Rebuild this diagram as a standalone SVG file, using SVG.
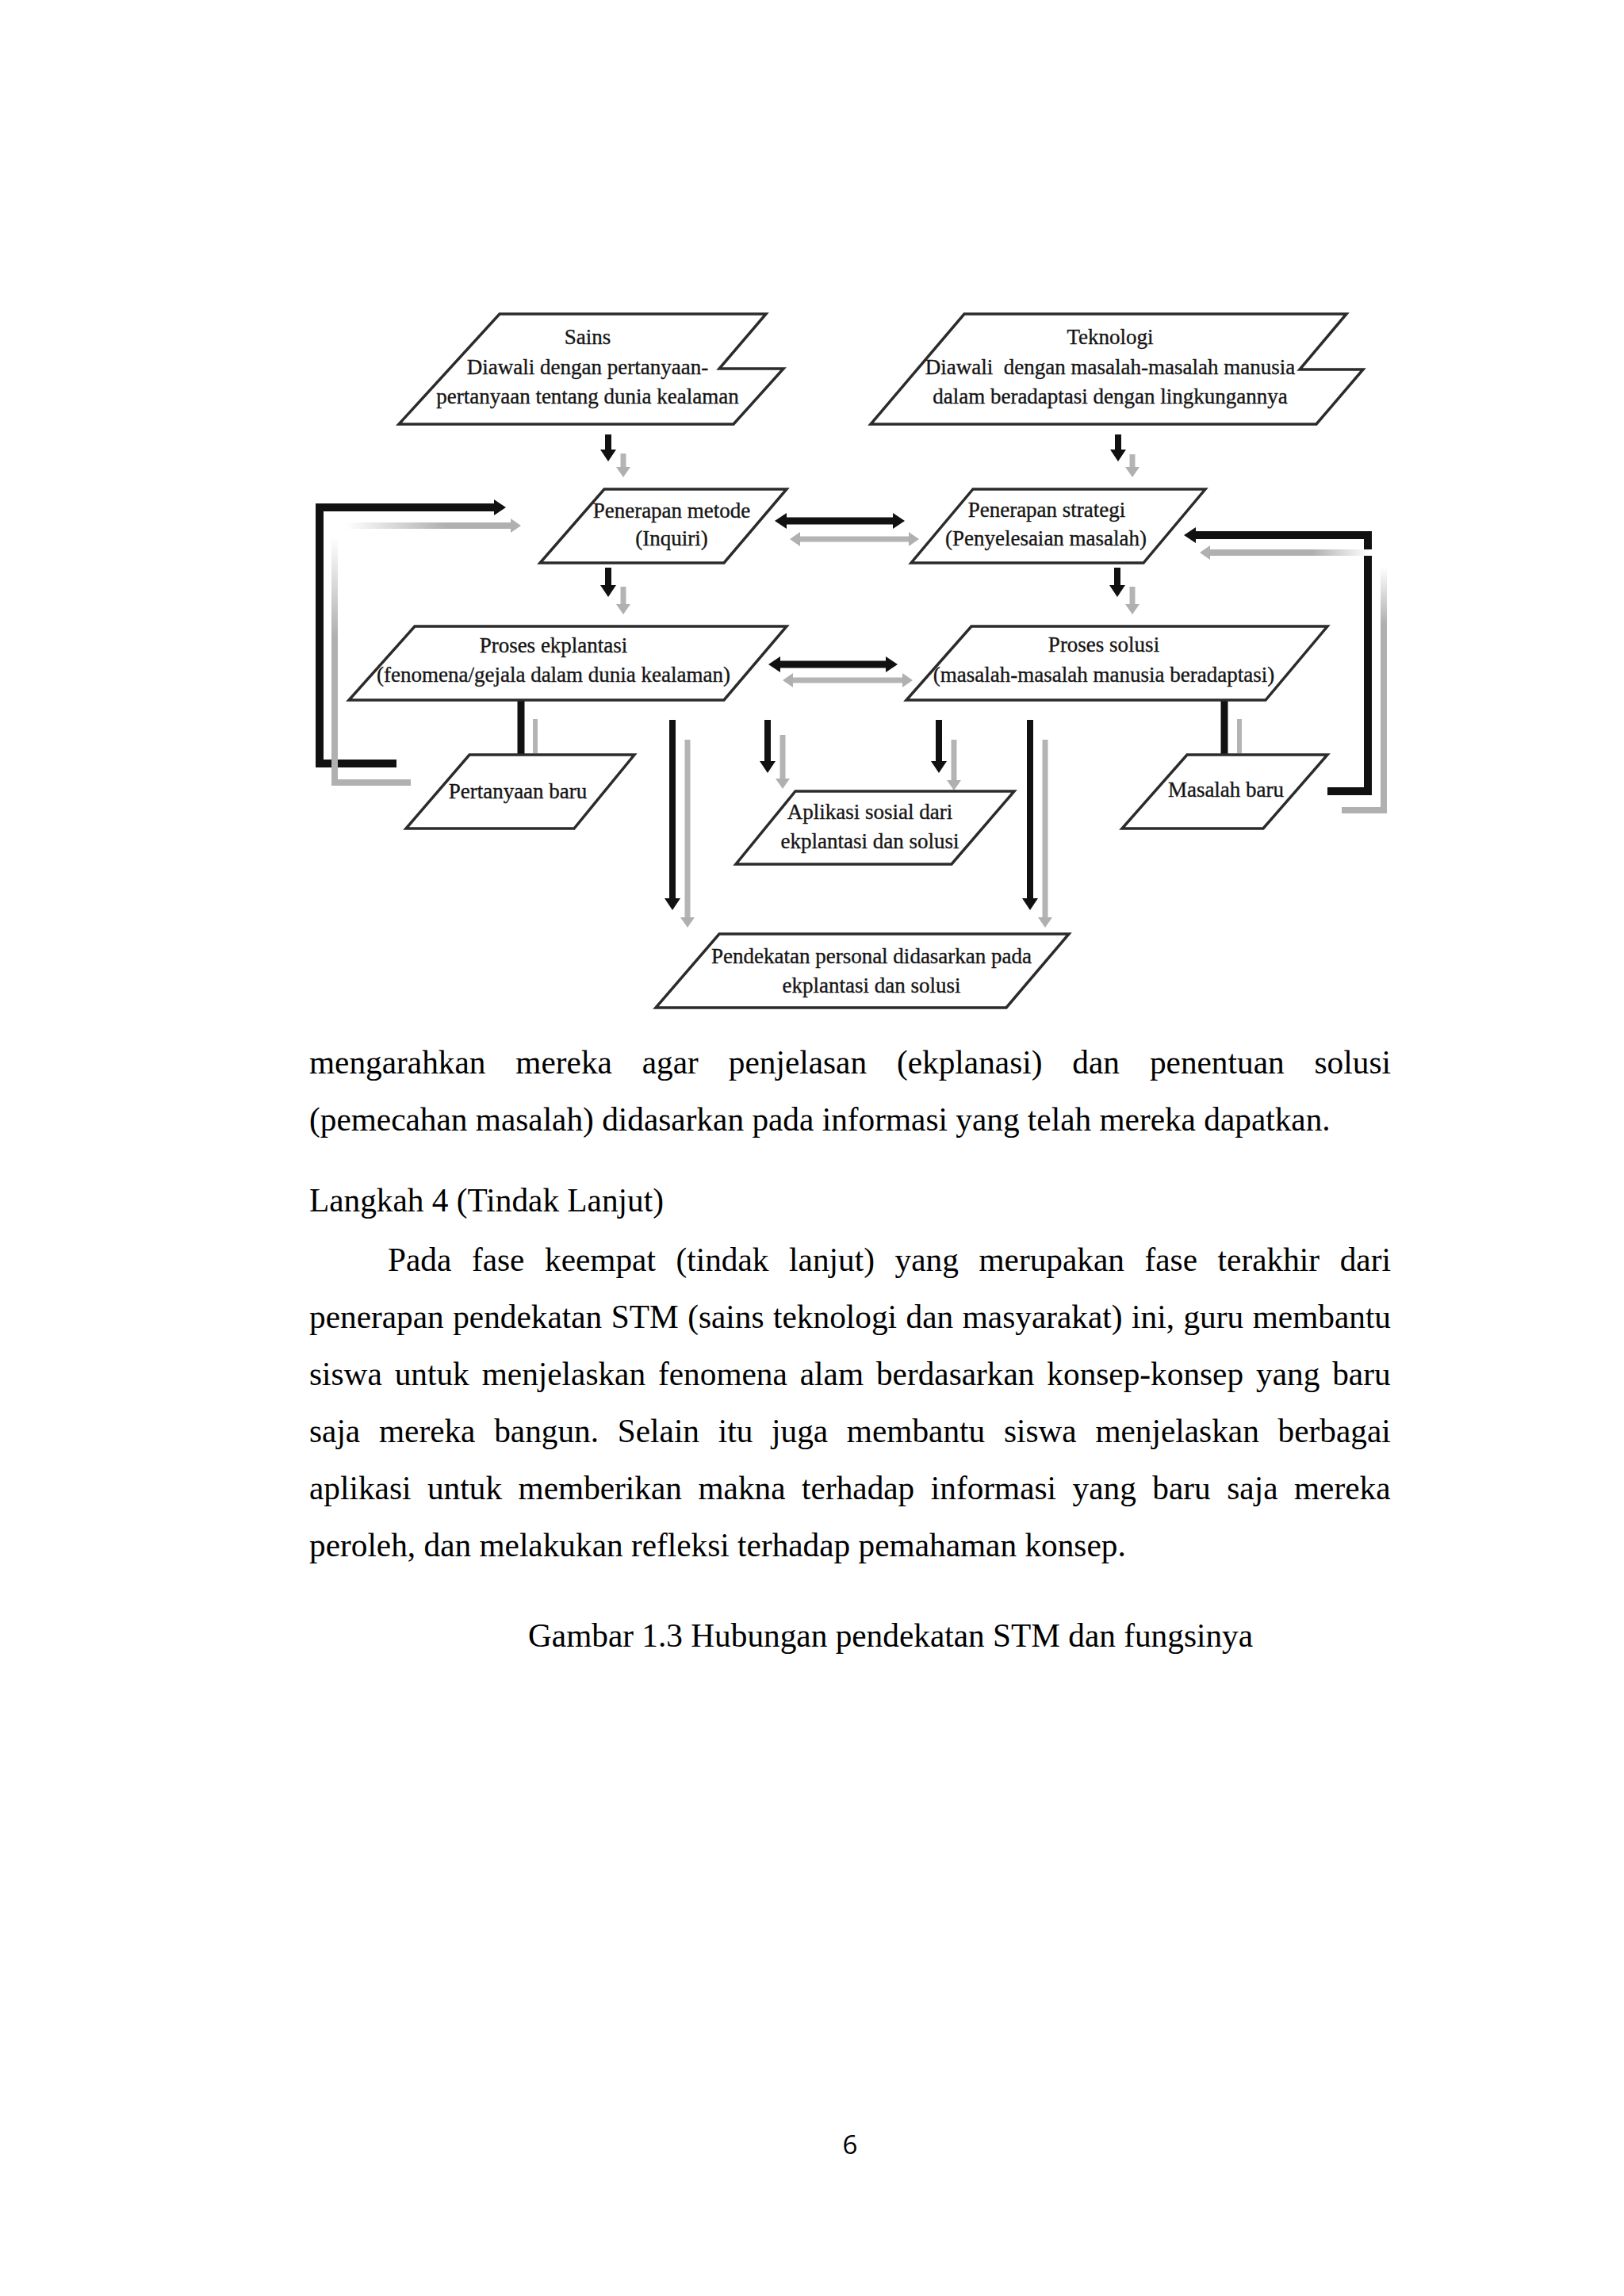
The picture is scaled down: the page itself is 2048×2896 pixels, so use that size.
<svg xmlns="http://www.w3.org/2000/svg" width="2048" height="2896" viewBox="0 0 2048 2896">
<style>
.box{fill:#fff;stroke:#2b2b2b;stroke-width:3.5;stroke-linejoin:miter}
.lbl{font-family:"Liberation Serif","Times New Roman",serif;font-size:27px;fill:#151515;stroke:#151515;stroke-width:0.35;text-anchor:middle}
.bk{fill:none;stroke:#111;stroke-width:8}
.bkl{fill:none;stroke:#111;stroke-width:10;stroke-linejoin:miter}
.gr{fill:none;stroke:#b4b4b4;stroke-width:7}
.body{font-family:"Liberation Serif","Times New Roman",serif;font-size:41.3px;fill:#000}
.pg{font-family:"Open Sans","Liberation Sans",sans-serif;font-size:33px;fill:#000;text-anchor:middle}
</style>
<defs>
<marker id="hb" markerUnits="userSpaceOnUse" viewBox="0 -10 15 20" markerWidth="15" markerHeight="20" refX="0" refY="0" orient="auto-start-reverse"><path d="M0,-10 L15,0 L0,10 Z" fill="#111"/></marker>
<marker id="hg" markerUnits="userSpaceOnUse" viewBox="0 -9 13 18" markerWidth="13" markerHeight="18" refX="0" refY="0" orient="auto-start-reverse"><path d="M0,-9 L13,0 L0,9 Z" fill="#b0b0b0"/></marker>
<radialGradient id="fadeL" gradientUnits="userSpaceOnUse" cx="422" cy="663" r="140"><stop offset="0.1" stop-color="#ffffff"/><stop offset="1" stop-color="#b0b0b0"/></radialGradient>
<radialGradient id="fadeR" gradientUnits="userSpaceOnUse" cx="1745" cy="697" r="90"><stop offset="0.2" stop-color="#ffffff"/><stop offset="1" stop-color="#b0b0b0"/></radialGradient>
</defs>
<rect width="2048" height="2896" fill="#fff"/>

<g id="connectors">
  <path class="bk" d="M767,548 V567" marker-end="url(#hb)"/>
  <path class="gr" d="M786,572 V589" marker-end="url(#hg)"/>
  <path class="bk" d="M1410,548 V567" marker-end="url(#hb)"/>
  <path class="gr" d="M1428,573 V589" marker-end="url(#hg)"/>
  <path class="bk" d="M767,716 V738" marker-end="url(#hb)"/>
  <path class="gr" d="M786,740 V762" marker-end="url(#hg)"/>
  <path class="bk" d="M1409,716 V738" marker-end="url(#hb)"/>
  <path class="gr" d="M1428,740 V762" marker-end="url(#hg)"/>
  <path class="bk" d="M968,908 V960" marker-end="url(#hb)"/>
  <path class="gr" d="M987,927 V982" marker-end="url(#hg)"/>
  <path class="bk" d="M1184,908 V960" marker-end="url(#hb)"/>
  <path class="gr" d="M1203,933 V984" marker-end="url(#hg)"/>
  <path class="bk" d="M848,908 V1133" marker-end="url(#hb)"/>
  <path class="gr" d="M867,933 V1157" marker-end="url(#hg)"/>
  <path class="bk" d="M1299,908 V1133" marker-end="url(#hb)"/>
  <path class="gr" d="M1318,933 V1157" marker-end="url(#hg)"/>
  <path class="bk" d="M657,883 V952" style="stroke-width:9"/>
  <path class="gr" d="M675,907 V950" style="stroke-width:6"/>
  <path class="bk" d="M1544,883 V952" style="stroke-width:9"/>
  <path class="gr" d="M1563,907 V950" style="stroke-width:6"/>
  <path class="bk" d="M992,657 H1126" style="stroke-width:9" marker-start="url(#hb)" marker-end="url(#hb)"/>
  <path class="gr" d="M1009,680 H1146" marker-start="url(#hg)" marker-end="url(#hg)"/>
  <path class="bk" d="M984,838 H1117" style="stroke-width:9" marker-start="url(#hb)" marker-end="url(#hb)"/>
  <path class="gr" d="M1000,858 H1138" marker-start="url(#hg)" marker-end="url(#hg)"/>
  <path class="bkl" d="M500,963 H403 V640 H623" marker-end="url(#hb)"/>
  <path fill="none" stroke="url(#fadeL)" stroke-width="8" d="M518,987 H422 V663 H644" marker-end="url(#hg)"/>
  <path class="bkl" d="M1674,998 H1725 V675 H1508" marker-end="url(#hb)"/>
  <path fill="none" stroke="url(#fadeR)" stroke-width="8" d="M1692,1022 H1745 V697 H1526" marker-end="url(#hg)"/>
</g>

<g id="node-sains">
  <polygon class="box" points="630,396 966,396 907,465 988,465 925,535 503,535"/>
  <text class="lbl" x="741" y="434">Sains</text>
  <text class="lbl" x="741" y="472">Diawali dengan pertanyaan-</text>
  <text class="lbl" x="741" y="509">pertanyaan tentang dunia kealaman</text>
</g>
<g id="node-teknologi">
  <polygon class="box" points="1216,396 1698,396 1639,466 1719,466 1660,535 1098,535"/>
  <text class="lbl" x="1400" y="434">Teknologi</text>
  <text class="lbl" x="1400" y="472" xml:space="preserve">Diawali  dengan masalah-masalah manusia</text>
  <text class="lbl" x="1400" y="509">dalam beradaptasi dengan lingkungannya</text>
</g>
<g id="node-penerapan-metode">
  <polygon class="box" points="762,617 992,617 913,710 681,710"/>
  <text class="lbl" x="847" y="653">Penerapan metode</text>
  <text class="lbl" x="847" y="688">(Inquiri)</text>
</g>
<g id="node-penerapan-strategi">
  <polygon class="box" points="1227,617 1520,617 1442,710 1149,710"/>
  <text class="lbl" x="1320" y="652">Penerapan strategi</text>
  <text class="lbl" x="1319" y="688">(Penyelesaian masalah)</text>
</g>
<g id="node-proses-ekplantasi">
  <polygon class="box" points="523,790 992,790 913,883 440,883"/>
  <text class="lbl" x="698" y="823">Proses ekplantasi</text>
  <text class="lbl" x="698" y="860">(fenomena/gejala dalam dunia kealaman)</text>
</g>
<g id="node-proses-solusi">
  <polygon class="box" points="1225,790 1674,790 1596,883 1143,883"/>
  <text class="lbl" x="1392" y="822">Proses solusi</text>
  <text class="lbl" x="1392" y="860">(masalah-masalah manusia beradaptasi)</text>
</g>
<g id="node-pertanyaan-baru">
  <polygon class="box" points="592,952 800,952 724,1045 512,1045"/>
  <text class="lbl" x="653" y="1007">Pertanyaan baru</text>
</g>
<g id="node-masalah-baru">
  <polygon class="box" points="1497,952 1674,952 1593,1045 1415,1045"/>
  <text class="lbl" x="1546" y="1005">Masalah baru</text>
</g>
<g id="node-aplikasi-sosial">
  <polygon class="box" points="1003,998 1279,998 1200,1090 928,1090"/>
  <text class="lbl" x="1097" y="1033">Aplikasi sosial dari</text>
  <text class="lbl" x="1097" y="1070">ekplantasi dan solusi</text>
</g>
<g id="node-pendekatan-personal">
  <polygon class="box" points="907,1178 1348,1178 1269,1271 827,1271"/>
  <text class="lbl" x="1099" y="1215">Pendekatan personal didasarkan pada</text>
  <text class="lbl" x="1099" y="1252">ekplantasi dan solusi</text>
</g>

<g id="body-text" class="body">
  <text x="390" y="1354" word-spacing="27.6">mengarahkan mereka agar penjelasan (ekplanasi) dan penentuan solusi</text>
  <text x="390" y="1426">(pemecahan masalah) didasarkan pada informasi yang telah mereka dapatkan.</text>
  <text x="390" y="1528">Langkah 4 (Tindak Lanjut)</text>
  <text x="489" y="1603" word-spacing="15.3">Pada fase keempat (tindak lanjut) yang merupakan fase terakhir dari</text>
  <text x="390" y="1675" word-spacing="1.2">penerapan pendekatan STM (sains teknologi dan masyarakat) ini, guru membantu</text>
  <text x="390" y="1747" word-spacing="5.6">siswa untuk menjelaskan fenomena alam berdasarkan konsep-konsep yang baru</text>
  <text x="390" y="1819" word-spacing="13.4">saja mereka bangun. Selain itu juga membantu siswa menjelaskan berbagai</text>
  <text x="390" y="1891" word-spacing="10.2">aplikasi untuk memberikan makna terhadap informasi yang baru saja mereka</text>
  <text x="390" y="1963">peroleh, dan melakukan refleksi terhadap pemahaman konsep.</text>
  <text x="666" y="2077">Gambar 1.3 Hubungan pendekatan STM dan fungsinya</text>
</g>
<text class="pg" x="1072" y="2717">6</text>
</svg>
